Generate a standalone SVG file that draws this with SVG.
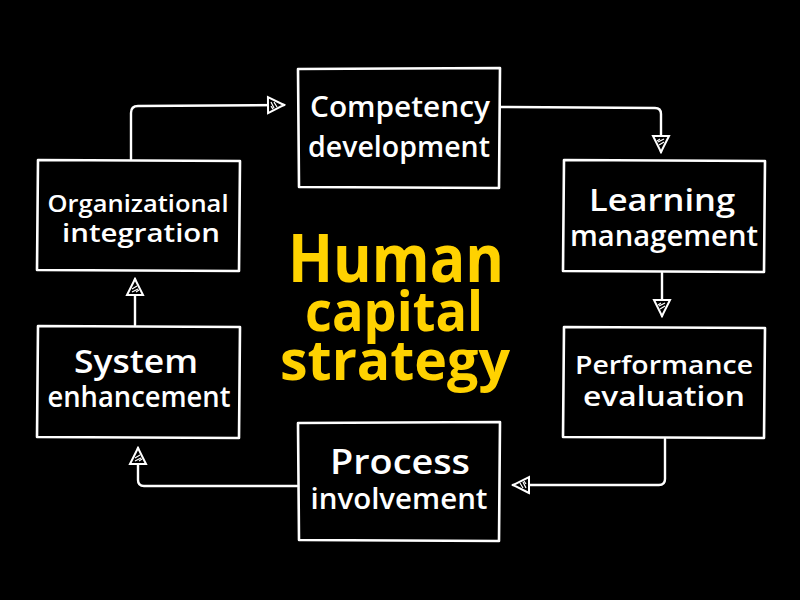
<svg xmlns="http://www.w3.org/2000/svg" width="800" height="600" viewBox="0 0 800 600">
<defs>
<style>
.box{fill:#000;stroke:#fff;stroke-width:2.6;stroke-linejoin:round;stroke-linecap:round}
.lbl{fill:#fff;font-family:"Open Sans","Liberation Sans",sans-serif;font-weight:600;text-anchor:middle}
.hub{fill:#FFD200;font-family:"Open Sans","Liberation Sans",sans-serif;font-weight:700;text-anchor:middle}
.con{fill:none;stroke:#fff;stroke-width:2.4;stroke-linecap:round;stroke-linejoin:round}
</style>
<marker id="arr" viewBox="0 0 20 20" refX="18" refY="10" markerWidth="20" markerHeight="20" markerUnits="userSpaceOnUse" orient="auto">
<polygon points="2,2 18,10 2,18" fill="#000" stroke="#fff" stroke-width="2"/>
<path d="M5,7 L8,13 M8,7 L11,12 M5,11 L7,14" stroke="#fff" stroke-width="1.2" fill="none"/>
</marker>
</defs>
<rect width="800" height="600" fill="#000"/>
<g id="connectors">
<path class="con" d="M131,159 L131,113 Q131,106 138,106 L284,105" marker-end="url(#arr)"/>
<path class="con" d="M501,107 L655,108 Q661,108 661,114 L661,152" marker-end="url(#arr)"/>
<path class="con" d="M662,273 L662,316" marker-end="url(#arr)"/>
<path class="con" d="M665,439 L665,479 Q665,485 659,485 L513,485" marker-end="url(#arr)"/>
<path class="con" d="M297,486 L144,486 Q138,486 138,480 L138,448" marker-end="url(#arr)"/>
<path class="con" d="M135,325 L135,279" marker-end="url(#arr)"/>
</g>
<g id="competency">
<path class="box" d="M298,69 L500,68 L499,188 L299,187 Z"/>
<text class="lbl" x="400" y="117" font-size="28" textLength="180" lengthAdjust="spacingAndGlyphs">Competency</text>
<text class="lbl" x="399" y="157" font-size="28" textLength="182" lengthAdjust="spacingAndGlyphs">development</text>
</g>
<g id="learning">
<path class="box" d="M564,160 L765,161 L764,272 L563,271 Z"/>
<text class="lbl" x="662" y="211" font-size="30" textLength="146" lengthAdjust="spacingAndGlyphs">Learning</text>
<text class="lbl" x="664" y="246" font-size="28" textLength="188" lengthAdjust="spacingAndGlyphs">management</text>
</g>
<g id="performance">
<path class="box" d="M564,327 L765,328 L764,438 L563,437 Z"/>
<text class="lbl" x="664" y="374" font-size="25" textLength="178" lengthAdjust="spacingAndGlyphs">Performance</text>
<text class="lbl" x="664" y="406" font-size="27" textLength="162" lengthAdjust="spacingAndGlyphs">evaluation</text>
</g>
<g id="process">
<path class="box" d="M298,423 L500,422 L499,541 L299,540 Z"/>
<text class="lbl" x="400" y="474" font-size="34" textLength="140" lengthAdjust="spacingAndGlyphs">Process</text>
<text class="lbl" x="399" y="509" font-size="28" textLength="177" lengthAdjust="spacingAndGlyphs">involvement</text>
</g>
<g id="system">
<path class="box" d="M38,326 L240,327 L239,438 L37,437 Z"/>
<text class="lbl" x="136" y="373" font-size="32" textLength="124" lengthAdjust="spacingAndGlyphs">System</text>
<text class="lbl" x="139" y="407" font-size="28" textLength="183" lengthAdjust="spacingAndGlyphs">enhancement</text>
</g>
<g id="organizational">
<path class="box" d="M38,160 L240,161 L239,271 L37,270 Z"/>
<text class="lbl" x="138" y="212" font-size="24" textLength="181" lengthAdjust="spacingAndGlyphs">Organizational</text>
<text class="lbl" x="141" y="242" font-size="26" textLength="158" lengthAdjust="spacingAndGlyphs">integration</text>
</g>
<g id="center">
<text class="hub" x="396" y="282" font-size="66" textLength="216" lengthAdjust="spacingAndGlyphs">Human</text>
<text class="hub" x="394" y="331" font-size="56" textLength="178" lengthAdjust="spacingAndGlyphs">capital</text>
<text class="hub" x="395" y="380" font-size="56" textLength="230" lengthAdjust="spacingAndGlyphs">strategy</text>
</g>
</svg>
